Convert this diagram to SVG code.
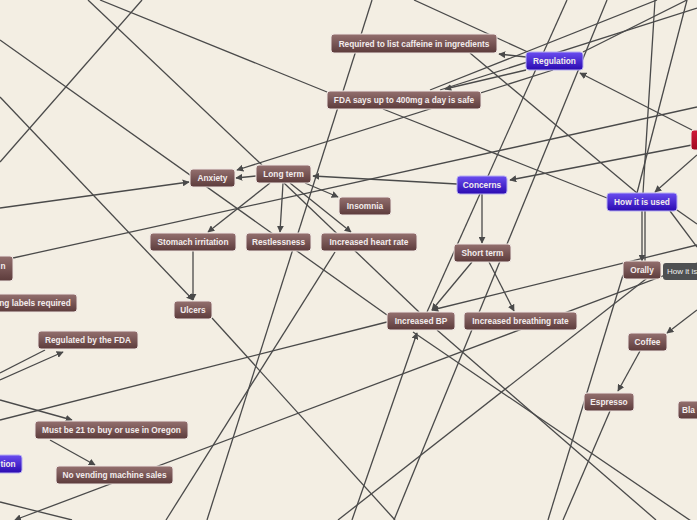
<svg xmlns="http://www.w3.org/2000/svg" width="697" height="520" viewBox="0 0 697 520">
<defs>
<linearGradient id="gb" x1="0" y1="0" x2="0" y2="1"><stop offset="0" stop-color="#94706f"/><stop offset="1" stop-color="#5c3b3b"/></linearGradient>
<linearGradient id="gu" x1="0" y1="0" x2="0" y2="1"><stop offset="0" stop-color="#6a4df0"/><stop offset="1" stop-color="#2a0ab0"/></linearGradient>
<linearGradient id="gr" x1="0" y1="0" x2="0" y2="1"><stop offset="0" stop-color="#d01a3a"/><stop offset="1" stop-color="#a00820"/></linearGradient>
<marker id="ar" viewBox="0 0 10 10" refX="9" refY="5" markerWidth="7" markerHeight="7" markerUnits="userSpaceOnUse" orient="auto"><path d="M0,0 L10,5 L0,10 z" fill="#4a4a4a"/></marker>
<marker id="as" viewBox="0 0 10 10" refX="1" refY="5" markerWidth="7" markerHeight="7" markerUnits="userSpaceOnUse" orient="auto-start-reverse"><path d="M0,0 L10,5 L0,10 z" fill="#4a4a4a"/></marker>
</defs>
<style>
.l{stroke:#4a4a4a;stroke-width:1.3;fill:none}
.a{marker-end:url(#ar)}
.b{fill:url(#gb);stroke:#efe6e2;stroke-width:1}
.u{fill:url(#gu);stroke:#b8b0f0;stroke-width:1}
.r{fill:url(#gr);stroke:#efe6e2;stroke-width:1}
.d{fill:#4e5052}
.t{font-family:"Liberation Sans",Arial,sans-serif;font-size:8.3px;font-weight:bold;fill:#f3ecec;text-anchor:middle}
.tw{font-family:"Liberation Sans",Arial,sans-serif;font-size:8px;fill:#f0f0f0}
</style>
<rect width="697" height="520" fill="#f3eee3"/>
<g id="connectors">
<path class="l" d="M88,0 L262,165"/>
<path class="l" d="M100,0 L327,92"/>
<path class="l" d="M142,0 L0,162"/>
<path class="l" d="M0,40 L387,315"/>
<path class="l a" d="M0,97 L193,300"/>
<path class="l" d="M372,0 L207,520"/>
<path class="l" d="M414,0 L530,53"/>
<path class="l" d="M470,53 L637,193"/>
<path class="l" d="M383,109 L607,198"/>
<path class="l" d="M697,107 L13,258"/>
<path class="l a" d="M0,208 L189,182"/>
<path class="l" d="M212,318 L395,520"/>
<path class="l" d="M335,252 L166,520"/>
<path class="l" d="M0,420 L387,322"/>
<path class="l a" d="M0,400 L72,420"/>
<path class="l" d="M0,373 L45,350"/>
<path class="l a" d="M0,380 L63,352"/>
<path class="l a" d="M50,440 L95,465"/>
<path class="l" d="M20,518 L697,263" marker-start="url(#as)"/>
<path class="l a" d="M697,245 L432,310"/>
<path class="l" d="M567,0 L427,312"/>
<path class="l" d="M607,0 L394,520"/>
<path class="l a" d="M352,520 L417,333"/>
<path class="l" d="M284,183 L419,312"/>
<path class="l" d="M413,332 L697,525"/>
<path class="l" d="M437,330 L656,520"/>
<path class="l" d="M623,275 L548,520"/>
<path class="l a" d="M640,351 L618,391"/>
<path class="l a" d="M642,211 L642,261"/>
<path class="l" d="M645,211 L645,261"/>
<path class="l a" d="M472,262 L432,310"/>
<path class="l a" d="M489,262 L514,311"/>
<path class="l" d="M610,411 L563,520"/>
<path class="l a" d="M697,310 L667,333"/>
<path class="l" d="M655,0 L643,193"/>
<path class="l" d="M687,0 L637,193"/>
<path class="l" d="M660,268 L338,520"/>
<path class="l" d="M430,90 L657,0"/>
<path class="l" d="M440,90 L697,8"/>
<path class="l" d="M583,52 L687,0"/>
<path class="l" d="M0,502 L72,520"/>
<path class="l" d="M677,210 L697,224"/>
<path class="l" d="M670,211 L697,247"/>
<path class="l a" d="M526,57 L499,54"/>
<path class="l a" d="M526,70 L445,89"/>
<path class="l a" d="M553,70 L237,170"/>
<path class="l a" d="M692,130 L580,73"/>
<path class="l a" d="M692,145 L510,180"/>
<path class="l a" d="M697,155 L655,192"/>
<path class="l a" d="M457,184 L313,176"/>
<path class="l a" d="M482,194 L482,243"/>
<path class="l a" d="M256,176 L236,178"/>
<path class="l a" d="M270,183 L208,232"/>
<path class="l a" d="M283,183 L280,232"/>
<path class="l a" d="M305,183 L338,197"/>
<path class="l a" d="M290,183 L351,232"/>
<path class="l a" d="M193,251 L193,300"/>
</g>
<g id="n-required"><rect class="b" x="331" y="34" width="166" height="19" rx="3"/><text class="t" x="414" y="46.5">Required to list caffeine in ingredients</text></g>
<g id="n-regulation"><rect class="u" x="526" y="52" width="57" height="18" rx="3"/><text class="t" x="554.5" y="64">Regulation</text></g>
<g id="n-fda"><rect class="b" x="327" y="91" width="154" height="18" rx="3"/><text class="t" x="404" y="103">FDA says up to 400mg a day is safe</text></g>
<g id="n-root"><rect class="r" x="691" y="130" width="20" height="20" rx="3"/></g>
<g id="n-anxiety"><rect class="b" x="190" y="169" width="45" height="18" rx="3"/><text class="t" x="212.5" y="181">Anxiety</text></g>
<g id="n-longterm"><rect class="b" x="256" y="165" width="55" height="18" rx="3"/><text class="t" x="283.5" y="177">Long term</text></g>
<g id="n-concerns"><rect class="u" x="457" y="176" width="50" height="18" rx="3"/><text class="t" x="482" y="188">Concerns</text></g>
<g id="n-howused"><rect class="u" x="607" y="193" width="70" height="18" rx="3"/><text class="t" x="642" y="205">How it is used</text></g>
<g id="n-insomnia"><rect class="b" x="339" y="197" width="52" height="18" rx="3"/><text class="t" x="365" y="209">Insomnia</text></g>
<g id="n-stomach"><rect class="b" x="150" y="233" width="86" height="18" rx="3"/><text class="t" x="193" y="245">Stomach irritation</text></g>
<g id="n-restless"><rect class="b" x="246" y="233" width="65" height="18" rx="3"/><text class="t" x="278.5" y="245">Restlessness</text></g>
<g id="n-heart"><rect class="b" x="321" y="233" width="96" height="18" rx="3"/><text class="t" x="369" y="245">Increased heart rate</text></g>
<g id="n-shortterm"><rect class="b" x="454" y="244" width="57" height="18" rx="3"/><text class="t" x="482.5" y="256">Short term</text></g>
<g id="n-orally"><rect class="b" x="623" y="261" width="38" height="18" rx="3"/><text class="t" x="642" y="273">Orally</text></g>
<g id="n-tip"><rect class="d" x="663" y="263" width="40" height="17" rx="3"/><text class="tw" x="667" y="274">How it is</text></g>
<g id="n-leftn"><rect class="b" x="-20" y="256" width="33" height="25" rx="3"/><text class="t" x="3" y="269">n</text></g>
<g id="n-labels"><rect class="b" x="-40" y="294" width="117" height="18" rx="3"/><text class="t" x="35" y="306">ng labels required</text></g>
<g id="n-regfda"><rect class="b" x="38" y="331" width="100" height="18" rx="3"/><text class="t" x="88" y="343">Regulated by the FDA</text></g>
<g id="n-ulcers"><rect class="b" x="174" y="301" width="38" height="18" rx="3"/><text class="t" x="193" y="313">Ulcers</text></g>
<g id="n-bp"><rect class="b" x="387" y="312" width="68" height="18" rx="3"/><text class="t" x="421" y="324">Increased BP</text></g>
<g id="n-breath"><rect class="b" x="464" y="312" width="113" height="18" rx="3"/><text class="t" x="520.5" y="324">Increased breathing rate</text></g>
<g id="n-coffee"><rect class="b" x="628" y="333" width="39" height="18" rx="3"/><text class="t" x="647.5" y="345">Coffee</text></g>
<g id="n-espresso"><rect class="b" x="584" y="393" width="50" height="18" rx="3"/><text class="t" x="609" y="405">Espresso</text></g>
<g id="n-bla"><rect class="b" x="678" y="401" width="40" height="18" rx="3"/><text class="t" x="682" y="413" style="text-anchor:start">Bla</text></g>
<g id="n-must21"><rect class="b" x="35" y="421" width="153" height="18" rx="3"/><text class="t" x="111.5" y="433">Must be 21 to buy or use in Oregon</text></g>
<g id="n-tion"><rect class="u" x="-30" y="455" width="52" height="18" rx="3"/><text class="t" x="8" y="467">tion</text></g>
<g id="n-vending"><rect class="b" x="56" y="466" width="117" height="18" rx="3"/><text class="t" x="114.5" y="478">No vending machine sales</text></g>
</svg>
